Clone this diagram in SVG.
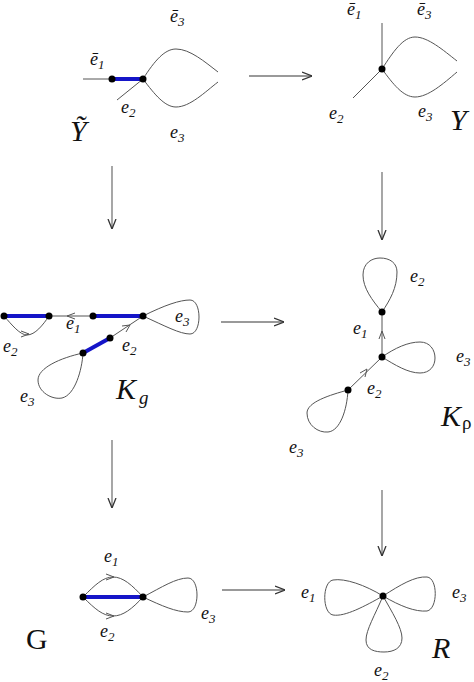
<svg xmlns="http://www.w3.org/2000/svg" width="474" height="682" viewBox="0 0 474 682">
<defs>
<marker id="ah" viewBox="0 0 10 10" refX="10" refY="5" markerWidth="10" markerHeight="10" markerUnits="userSpaceOnUse" orient="auto">
<path d="M0,1 L10,5 L0,9" fill="none" stroke="#333" stroke-width="1.3"/>
</marker>
</defs>
<style>
.e{fill:none;stroke:#555;stroke-width:1}
.b{fill:none;stroke:#1515c8;stroke-width:4}
.d{fill:#000}
.a{fill:none;stroke:#777;stroke-width:1.3}
.ch{fill:none;stroke:#555;stroke-width:1}
text{font-family:"Liberation Serif","Times New Roman",serif;font-style:italic;fill:#111}
.l{font-size:18px}
.s{font-size:13px}
.big{font-size:30px}
</style>
<rect width="474" height="682" fill="#fff"/>

<g id="connectors">
<line class="a" x1="249" y1="76" x2="312" y2="76" marker-end="url(#ah)"/>
<line class="a" x1="112" y1="166" x2="112" y2="229" marker-end="url(#ah)"/>
<line class="a" x1="382" y1="172" x2="382" y2="240" marker-end="url(#ah)"/>
<line class="a" x1="221" y1="322" x2="284" y2="322" marker-end="url(#ah)"/>
<line class="a" x1="112" y1="440" x2="112" y2="508" marker-end="url(#ah)"/>
<line class="a" x1="382" y1="490" x2="382" y2="556" marker-end="url(#ah)"/>
<line class="a" x1="222" y1="590" x2="285" y2="590" marker-end="url(#ah)"/>
</g>

<g id="Ytilde">
<line class="e" x1="83" y1="79" x2="112" y2="79"/>
<line class="e" x1="117" y1="100" x2="143" y2="79"/>
<path class="e" d="M143,79 C155,60 165,49 176,49 C190,49 205,62 218,72"/>
<path class="e" d="M143,79 C155,95 165,107 176,107 C190,107 205,92 218,82"/>
<line class="b" x1="112" y1="79" x2="143" y2="79"/>
<circle class="d" cx="112" cy="79" r="3.5"/>
<circle class="d" cx="143" cy="79" r="3.5"/>
<text class="l" x="90" y="65">ē<tspan class="s" dy="4">1</tspan></text>
<text class="l" x="170" y="22">ē<tspan class="s" dy="4">3</tspan></text>
<text class="l" x="121" y="113">e<tspan class="s" dy="4">2</tspan></text>
<text class="l" x="170" y="138">e<tspan class="s" dy="4">3</tspan></text>
<text class="big" x="70" y="141">Ỹ</text>
</g>

<g id="Y">
<line class="e" x1="382" y1="69" x2="382" y2="23"/>
<line class="e" x1="382" y1="69" x2="353" y2="98"/>
<path class="e" d="M382,69 C393,52 403,37 415,37 C428,37 443,50 457,61"/>
<path class="e" d="M382,69 C393,84 403,97 415,97 C428,97 443,84 457,72"/>
<circle class="d" cx="382" cy="69" r="3.5"/>
<text class="l" x="347" y="15">ē<tspan class="s" dy="4">1</tspan></text>
<text class="l" x="417" y="15">ē<tspan class="s" dy="4">3</tspan></text>
<text class="l" x="329" y="119">e<tspan class="s" dy="4">2</tspan></text>
<text class="l" x="418" y="117">e<tspan class="s" dy="4">3</tspan></text>
<text class="big" x="450" y="130">Y</text>
</g>

<g id="Kg">
<path class="e" d="M4,316 C12,325 20,335 27,335 C35,335 43,325 49,316"/>
<path class="ch" d="M21,331 L29,334 L21,337"/>
<line class="e" x1="49" y1="316" x2="93" y2="316"/>
<path class="ch" d="M75,313 L67,316 L75,319"/>
<path class="e" d="M143,316 C165,305 180,300 190,300 C202,300 202,334 190,334 C180,334 165,326 143,316"/>
<line class="e" x1="143" y1="316" x2="110" y2="338"/>
<path class="ch" d="M122,326 L130,325 L126,332"/>
<path class="e" d="M83,353 C60,358 38,368 38,380 C38,392 52,400 62,398 C75,395 82,370 83,353"/>
<line class="b" x1="4" y1="316" x2="49" y2="316"/>
<line class="b" x1="93" y1="316" x2="143" y2="316"/>
<line class="b" x1="110" y1="338" x2="83" y2="353"/>
<circle class="d" cx="4" cy="316" r="3.5"/>
<circle class="d" cx="49" cy="316" r="3.5"/>
<circle class="d" cx="93" cy="316" r="3.5"/>
<circle class="d" cx="143" cy="316" r="3.5"/>
<circle class="d" cx="110" cy="338" r="3.5"/>
<circle class="d" cx="83" cy="353" r="3.5"/>
<text class="l" x="66" y="329">e<tspan class="s" dy="4">1</tspan></text>
<text class="l" x="175" y="322">e<tspan class="s" dy="4">3</tspan></text>
<text class="l" x="3" y="352">e<tspan class="s" dy="4">2</tspan></text>
<text class="l" x="122" y="351">e<tspan class="s" dy="4">2</tspan></text>
<text class="l" x="20" y="402">e<tspan class="s" dy="4">3</tspan></text>
<text class="big" x="116" y="399">K<tspan font-size="19" dx="3" dy="5">g</tspan></text>
</g>

<g id="Krho">
<path class="e" d="M382,312 C372,300 363,288 363,275 C363,263 372,258 380,258 C390,258 397,263 397,272 C397,288 390,300 382,312"/>
<line class="e" x1="382" y1="312" x2="382" y2="357"/>
<path class="ch" d="M379,339 L382,331 L385,339"/>
<path class="e" d="M382,357 C395,348 408,342 420,342 C430,342 435,350 435,358 C435,366 430,373 420,373 C408,373 395,365 382,357"/>
<line class="e" x1="382" y1="357" x2="348" y2="390"/>
<path class="ch" d="M360,373 L367,369 L365,377"/>
<path class="e" d="M348,390 C330,395 307,402 307,413 C307,425 318,433 328,432 C340,431 347,410 348,390"/>
<circle class="d" cx="382" cy="312" r="3.5"/>
<circle class="d" cx="382" cy="357" r="3.5"/>
<circle class="d" cx="348" cy="390" r="3.5"/>
<text class="l" x="410" y="282">e<tspan class="s" dy="4">2</tspan></text>
<text class="l" x="353" y="334">e<tspan class="s" dy="4">1</tspan></text>
<text class="l" x="456" y="362">e<tspan class="s" dy="4">3</tspan></text>
<text class="l" x="367" y="394">e<tspan class="s" dy="4">2</tspan></text>
<text class="l" x="289" y="453">e<tspan class="s" dy="4">3</tspan></text>
<text class="big" x="441" y="426">K<tspan font-size="19" font-style="normal" dx="1" dy="3">ρ</tspan></text>
</g>

<g id="G">
<path class="e" d="M83,597 C95,585 103,577 113,577 C123,577 132,585 143,597"/>
<path class="ch" d="M106,574 L114,577 L106,580"/>
<path class="e" d="M83,597 C95,609 103,616 113,616 C123,616 132,609 143,597"/>
<path class="ch" d="M106,613 L114,616 L106,619"/>
<path class="e" d="M143,597 C162,587 176,578 188,578 C200,578 200,612 188,612 C176,612 162,606 143,597"/>
<line class="b" x1="83" y1="597" x2="143" y2="597"/>
<circle class="d" cx="83" cy="597" r="3.5"/>
<circle class="d" cx="143" cy="597" r="3.5"/>
<text class="l" x="104" y="562">e<tspan class="s" dy="4">1</tspan></text>
<text class="l" x="100" y="637">e<tspan class="s" dy="4">2</tspan></text>
<text class="l" x="201" y="619">e<tspan class="s" dy="4">3</tspan></text>
<text class="big" x="26" y="649" style="font-style:normal">G</text>
</g>

<g id="R">
<path class="e" d="M383,596 C365,585 345,578 333,580 C322,582 322,613 333,615 C345,617 365,606 383,596"/>
<path class="e" d="M383,596 C400,585 415,576 427,577 C438,578 438,609 427,611 C415,612 400,606 383,596"/>
<path class="e" d="M383,596 C375,615 366,630 366,640 C366,650 375,652 384,652 C394,652 402,648 402,638 C402,628 392,612 383,596"/>
<circle class="d" cx="383" cy="596" r="3.5"/>
<text class="l" x="301" y="598">e<tspan class="s" dy="4">1</tspan></text>
<text class="l" x="452" y="598">e<tspan class="s" dy="4">3</tspan></text>
<text class="l" x="374" y="676">e<tspan class="s" dy="4">2</tspan></text>
<text class="big" x="432" y="658">R</text>
</g>
</svg>
